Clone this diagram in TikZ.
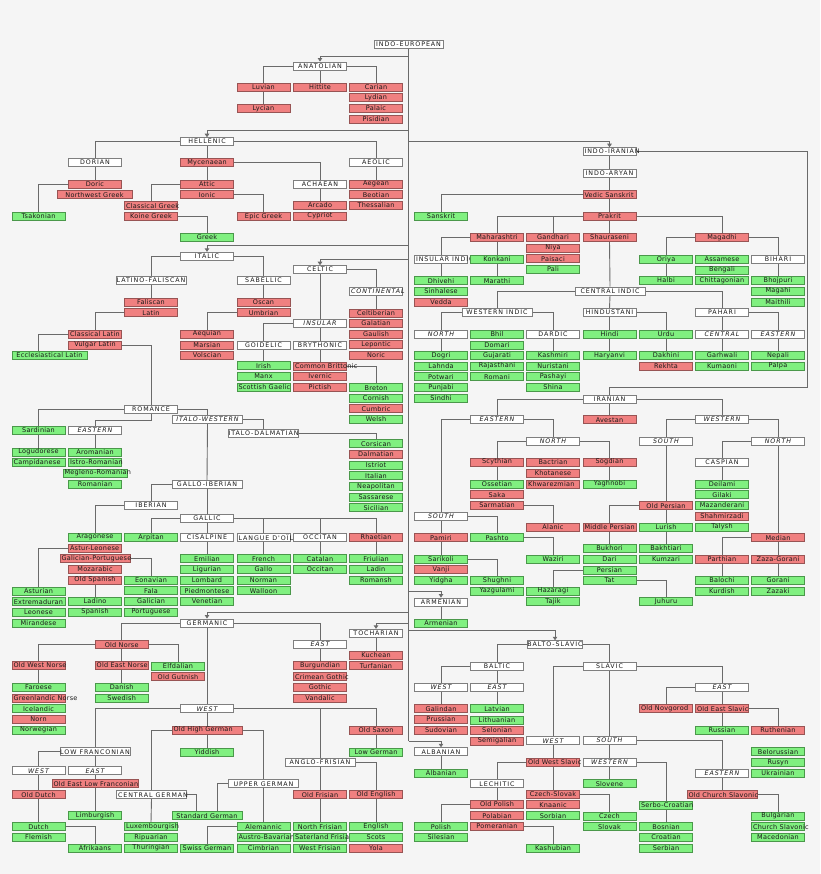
\documentclass[tikz,border=0pt]{standalone}
\usepackage{fontspec}
\setmainfont{DejaVu Sans}
\newfontfamily\boxfont[LetterSpace=4]{DejaVu Sans}
\newfontfamily\hdrfont[LetterSpace=15]{DejaVu Sans}
\usetikzlibrary{arrows.meta,backgrounds}
\definecolor{redf}{HTML}{F08080}
\definecolor{redd}{HTML}{985454}
\definecolor{grnf}{HTML}{80F080}
\definecolor{grnd}{HTML}{4A984A}
\definecolor{hdrd}{HTML}{7F7F7F}
\definecolor{lnc}{HTML}{6A6A6A}
\definecolor{bgc}{HTML}{F5F5F5}
\definecolor{txc}{HTML}{1A1A1A}
\tikzset{
  bx/.style={rectangle, minimum width=53, minimum height=8, inner sep=0pt, line width=0.9pt, text=txc},
  r/.style={bx, fill=redf, draw=redd, font=\boxfont\fontsize{6.5}{7}\selectfont},
  g/.style={bx, fill=grnf, draw=grnd, font=\boxfont\fontsize{6.5}{7}\selectfont},
  h/.style={bx, fill=white, draw=hdrd, font=\hdrfont\fontsize{6.3}{7}\selectfont},
  hi/.style={bx, fill=white, draw=hdrd, font=\hdrfont\itshape\fontsize{6.3}{7}\selectfont},
  wd/.style={minimum width=70},
  ln/.style={draw=lnc, line width=0.9pt},
  arr/.style={ln, -{Triangle[width=4.5pt,length=3.5pt]}}
}
\newcommand\nb[5]{\node[#1] (#2) at (#3,#4) {\makebox[0pt]{#5}};}
\newcommand\ovf[2]{\makebox[0pt][l]{\hspace*{\dimexpr -#1pt/2 + 1.5pt\relax}#2}}
\newcommand\cdown[2]{\draw[ln] (#1.south) -- (#2.north);}
\newcommand\cleft[2]{\draw[ln] (#1.west) -| (#2.north);}
\newcommand\cright[2]{\draw[ln] (#1.east) -| (#2.north);}
\begin{document}
\begin{tikzpicture}[x=1pt,y=-1pt]
\useasboundingbox (0,0) rectangle (820,874);
% ---------- top
\nb{h,minimum width=69}{ie}{408.5}{44.7}{INDO-EUROPEAN}
% Anatolian
\nb{h}{anat}{320}{66}{ANATOLIAN}
\nb{r}{luvian}{263.5}{87.3}{Luvian}
\nb{r}{lycian}{263.5}{108.7}{Lycian}
\nb{r}{hittite}{320}{87.3}{Hittite}
\nb{r}{carian}{376}{87.3}{Carian}
\nb{r}{lydian}{376}{97.8}{Lydian}
\nb{r}{palaic}{376}{108.4}{Palaic}
\nb{r}{pisidian}{376}{119}{Pisidian}
% Hellenic
\nb{h}{hell}{207}{141.7}{HELLENIC}
\nb{h}{dorian}{95}{162.7}{DORIAN}
\nb{r}{myc}{207}{162.7}{Mycenaean}
\nb{h}{aeolic}{376}{162.7}{AEOLIC}
\nb{r}{doric}{95}{184.3}{Doric}
\nb{r,minimum width=75}{nwgreek}{94.5}{194.7}{Northwest Greek}
\nb{r}{attic}{207}{184.3}{Attic}
\nb{r}{ionic}{207}{194.7}{Ionic}
\nb{h}{achaean}{320}{184.3}{ACHAEAN}
\nb{r}{aegean}{376}{184.3}{Aegean}
\nb{r}{beotian}{376}{194.7}{Beotian}
\nb{r}{thessalian}{376}{205.3}{Thessalian}
\nb{r}{classgreek}{151}{205.7}{\ovf{53}{Classical Greek}}
\nb{r}{koine}{151}{216.3}{Koine Greek}
\nb{g}{tsakonian}{38.5}{216.3}{Tsakonian}
\nb{r}{epic}{263.5}{216.3}{Epic Greek}
\nb{r}{arcado}{320}{205.3}{Arcado}
\nb{r}{cypriot}{320}{216}{Cypriot}
\nb{g}{greek}{207}{237.3}{Greek}
% Italic
\nb{h}{italic}{207}{256.3}{ITALIC}
\nb{h,wd}{latfal}{151}{280.7}{LATINO-FALISCAN}
\nb{h}{sabellic}{263.5}{280.7}{SABELLIC}
\nb{r}{faliscan}{151}{302.3}{Faliscan}
\nb{r}{latin}{151}{312.7}{Latin}
\nb{r}{oscan}{263.5}{302.3}{Oscan}
\nb{r}{umbrian}{263.5}{312.7}{Umbrian}
\nb{r}{classlatin}{95}{334}{\ovf{53}{Classical Latin}}
\nb{r}{vulgar}{95}{345}{Vulgar Latin}
\nb{g,minimum width=75}{eccl}{49.5}{355.3}{Ecclesiastical Latin}
\nb{r}{aequian}{207}{334}{Aequian}
\nb{r}{marsian}{207}{345}{Marsian}
\nb{r}{volscian}{207}{355.3}{Volscian}
% Celtic
\nb{h}{celtic}{320}{269.7}{CELTIC}
\nb{hi}{continental}{376}{291.3}{\ovf{53}{CONTINENTAL}}
\nb{r}{celtiberian}{376}{313}{Celtiberian}
\nb{r}{galatian}{376}{323.5}{Galatian}
\nb{r}{gaulish}{376}{334}{Gaulish}
\nb{r}{lepontic}{376}{344.8}{Lepontic}
\nb{r}{noric}{376}{355.5}{Noric}
\nb{hi}{insular}{320}{323.3}{INSULAR}
\nb{h}{goidelic}{263.5}{345}{GOIDELIC}
\nb{h}{brythonic}{320}{345}{BRYTHONIC}
\nb{g}{irish}{263.5}{365.8}{Irish}
\nb{g}{manx}{263.5}{376.3}{Manx}
\nb{g}{scottish}{263.5}{387}{\ovf{53}{Scottish Gaelic}}
\nb{r}{commonbritt}{320}{366}{\ovf{53}{Common Brittonic}}
\nb{r}{ivernic}{320}{376.5}{Ivernic}
\nb{r}{pictish}{320}{387.3}{Pictish}
\nb{g}{breton}{376}{387.7}{Breton}
\nb{g}{cornish}{376}{398.2}{Cornish}
\nb{r}{cumbric}{376}{408.8}{Cumbric}
\nb{g}{welsh}{376}{419.3}{Welsh}
% Romance
\nb{h}{romance}{151}{409}{ROMANCE}
\nb{g}{sardinian}{38.5}{430.3}{Sardinian}
\nb{hi}{easternr}{95}{430.3}{EASTERN}
\nb{hi,wd}{itw}{207.5}{419.7}{ITALO-WESTERN}
\nb{h,wd}{itd}{263.5}{433.3}{ITALO-DALMATIAN}
\nb{g}{logudorese}{38.5}{452}{Logudorese}
\nb{g}{campidanese}{38.5}{462.5}{\ovf{53}{Campidanese}}
\nb{g}{aromanian}{95}{452}{Aromanian}
\nb{g}{istro}{95}{462.5}{\ovf{53}{Istro-Romanian}}
\nb{g,minimum width=64}{megleno}{95}{473}{\ovf{64}{Megleno-Romanian}}
\nb{g}{romanian}{95}{484}{Romanian}
\nb{g}{corsican}{376}{443.7}{Corsican}
\nb{r}{dalmatian}{376}{454.3}{Dalmatian}
\nb{g}{istriot}{376}{465}{Istriot}
\nb{g}{italian}{376}{475.7}{Italian}
\nb{g}{neapolitan}{376}{486.3}{Neapolitan}
\nb{g}{sassarese}{376}{497}{Sassarese}
\nb{g}{sicilian}{376}{507.7}{Sicilian}
\nb{h,wd}{galloib}{207}{484.7}{GALLO-IBERIAN}
\nb{h}{iberian}{151}{505.3}{IBERIAN}
\nb{h}{gallic}{207}{518.3}{GALLIC}
\nb{g}{aragonese}{95}{537.3}{Aragonese}
\nb{g}{arpitan}{151}{537.3}{Arpitan}
\nb{h}{cisalpine}{207}{537.3}{CISALPINE}
\nb{h}{langue}{263.5}{537.3}{\ovf{53}{LANGUE D'OÏL}}
\nb{h}{occitanh}{320}{537.3}{OCCITAN}
\nb{r}{rhaetian}{376}{537.3}{Rhaetian}
\nb{r}{asturleon}{95}{548}{\ovf{53}{Astur-Leonese}}
\nb{r,wd}{galport}{95}{558.7}{\ovf{70}{Galician-Portuguese}}
\nb{r}{mozarabic}{95}{569.5}{Mozarabic}
\nb{r}{oldspanish}{95}{580}{Old Spanish}
\nb{g}{asturian}{38.5}{591}{Asturian}
\nb{g}{extremaduran}{38.5}{601.7}{Extremaduran}
\nb{g}{leonese}{38.5}{612.3}{Leonese}
\nb{g}{mirandese}{38.5}{623}{Mirandese}
\nb{g}{eonavian}{151}{580}{Eonavian}
\nb{g}{fala}{151}{590.7}{Fala}
\nb{g}{galician}{151}{601.3}{Galician}
\nb{g}{portuguese}{151}{612}{Portuguese}
\nb{g}{ladino}{95}{601.3}{Ladino}
\nb{g}{spanish}{95}{612}{Spanish}
\nb{g}{emilian}{207}{558.7}{Emilian}
\nb{g}{ligurian}{207}{569.3}{Ligurian}
\nb{g}{lombard}{207}{580}{Lombard}
\nb{g}{piedmontese}{207}{590.7}{Piedmontese}
\nb{g}{venetian}{207}{601.3}{Venetian}
\nb{g}{french}{263.5}{558.7}{French}
\nb{g}{gallo}{263.5}{569.3}{Gallo}
\nb{g}{norman}{263.5}{580}{Norman}
\nb{g}{walloon}{263.5}{590.7}{Walloon}
\nb{g}{catalan}{320}{558.7}{Catalan}
\nb{g}{occitan}{320}{569.3}{Occitan}
\nb{g}{friulian}{376}{558.7}{Friulian}
\nb{g}{ladin}{376}{569.3}{Ladin}
\nb{g}{romansh}{376}{580}{Romansh}
% Germanic
\nb{h}{germanic}{207}{623}{GERMANIC}
\nb{r}{oldnorse}{121.7}{644.7}{Old Norse}
\nb{hi}{eastg}{320}{644.7}{EAST}
\nb{r}{ownorse}{38.5}{665.3}{\ovf{53}{Old West Norse}}
\nb{r}{oenorse}{121.7}{665.3}{\ovf{53}{Old East Norse}}
\nb{g}{elfdalian}{178}{666.3}{Elfdalian}
\nb{r}{oldgutnish}{178}{676.7}{Old Gutnish}
\nb{g}{faroese}{38.5}{687.3}{Faroese}
\nb{r}{greenlandic}{38.5}{698}{\ovf{53}{Greenlandic Norse}}
\nb{g}{icelandic}{38.5}{708.7}{Icelandic}
\nb{r}{norn}{38.5}{719.5}{Norn}
\nb{g}{norwegian}{38.5}{730}{Norwegian}
\nb{g}{danish}{121.7}{687.3}{Danish}
\nb{g}{swedish}{121.7}{698}{Swedish}
\nb{r}{burgundian}{320}{665.7}{Burgundian}
\nb{r}{crimean}{320}{676.7}{\ovf{53}{Crimean Gothic}}
\nb{r}{gothic}{320}{687.5}{Gothic}
\nb{r}{vandalic}{320}{698}{Vandalic}
\nb{h}{tocharian}{376}{633.3}{TOCHARIAN}
\nb{r}{kuchean}{376}{655}{Kuchean}
\nb{r}{turfanian}{376}{665.7}{Turfanian}
\nb{hi}{westg}{207}{708.7}{WEST}
\nb{r,wd}{ohg}{207}{730}{\ovf{70}{Old High German}}
\nb{g}{yiddish}{207}{752.3}{Yiddish}
\nb{r}{oldsaxon}{376}{730.3}{Old Saxon}
\nb{g}{lowgerman}{376}{752}{Low German}
\nb{h,wd}{lowfr}{95}{751.7}{LOW FRANCONIAN}
\nb{hi}{westlf}{38.5}{770.7}{WEST}
\nb{hi}{eastlf}{95}{770.7}{EAST}
\nb{r,minimum width=86}{oelf}{95}{783.7}{\ovf{86}{Old East Low Franconian}}
\nb{r}{olddutch}{38.5}{794.7}{Old Dutch}
\nb{h,wd}{centralg}{151.5}{794.7}{\ovf{70}{CENTRAL GERMAN}}
\nb{h,wd}{upperg}{263.5}{783.7}{UPPER GERMAN}
\nb{h,wd}{angfris}{320}{762.3}{ANGLO-FRISIAN}
\nb{r}{oldfrisian}{320}{794.7}{Old Frisian}
\nb{r}{oldenglish}{376}{794.3}{Old English}
\nb{g}{limburgish}{95}{815.7}{Limburgish}
\nb{g,wd}{stdgerman}{207}{815.7}{Standard German}
\nb{g}{dutch}{38.5}{826.7}{Dutch}
\nb{g}{flemish}{38.5}{837.3}{Flemish}
\nb{g}{afrikaans}{95}{848}{Afrikaans}
\nb{g}{luxembourgish}{151}{826.7}{\ovf{53}{Luxembourgish}}
\nb{g}{ripuarian}{151}{837.3}{Ripuarian}
\nb{g}{thuringian}{151}{848}{Thuringian}
\nb{g}{swissgerman}{207}{848}{Swiss German}
\nb{g}{alemannic}{263.5}{826.7}{Alemannic}
\nb{g}{austrobav}{263.5}{837.3}{\ovf{53}{Austro-Bavarian}}
\nb{g}{cimbrian}{263.5}{848}{Cimbrian}
\nb{g}{northfrisian}{320}{826.7}{North Frisian}
\nb{g}{saterland}{320}{837.3}{\ovf{53}{Saterland Frisian}}
\nb{g}{westfrisian}{320}{848}{West Frisian}
\nb{g}{english}{376}{826.7}{English}
\nb{g}{scots}{376}{837.3}{Scots}
\nb{r}{yola}{376}{848}{Yola}
% Indo-Iranian
\nb{h}{indoiran}{609.5}{151.7}{\ovf{53}{INDO-IRANIAN}}
\nb{h}{indoaryan}{609.5}{173}{INDO-ARYAN}
\nb{r}{vedic}{609.5}{194.7}{\ovf{53}{Vedic Sanskrit}}
\nb{g}{sanskrit}{441}{216.3}{Sanskrit}
\nb{r}{prakrit}{609.5}{216.3}{Prakrit}
\nb{r}{maharashtri}{497}{237.3}{Maharashtri}
\nb{r}{gandhari}{553}{237.3}{Gandhari}
\nb{r}{shauraseni}{609.5}{237.3}{Shauraseni}
\nb{r}{magadhi}{722}{237.3}{Magadhi}
\nb{r}{niya}{553}{248}{Niya}
\nb{r}{paisaci}{553}{258.7}{Paisaci}
\nb{g}{pali}{553}{269.5}{Pali}
\nb{h}{insindic}{441}{259}{\ovf{53}{INSULAR INDIC}}
\nb{g}{konkani}{497}{259}{Konkani}
\nb{g}{marathi}{497}{280.7}{Marathi}
\nb{g}{oriya}{666}{259.3}{Oriya}
\nb{g}{assamese}{722}{259.3}{Assamese}
\nb{h}{bihari}{778}{259.3}{BIHARI}
\nb{g}{bengali}{722}{270}{Bengali}
\nb{g}{dhivehi}{441}{280.7}{Dhivehi}
\nb{g}{halbi}{666}{280.3}{Halbi}
\nb{g}{chittagonian}{722}{280.3}{Chittagonian}
\nb{g}{bhojpuri}{778}{280.3}{Bhojpuri}
\nb{g}{sinhalese}{441}{291.3}{Sinhalese}
\nb{g}{magahi}{778}{291}{Magahi}
\nb{g}{maithili}{778}{302}{Maithili}
\nb{h,wd}{centralindic}{610}{291}{CENTRAL INDIC}
\nb{r}{vedda}{441}{302.3}{Vedda}
\nb{h,wd}{westindic}{497}{312.7}{WESTERN INDIC}
\nb{h}{hindustani}{609.5}{312.7}{HINDUSTANI}
\nb{h}{pahari}{722}{312.7}{PAHARI}
\nb{hi}{northi}{441}{334}{NORTH}
\nb{g}{bhil}{497}{334}{Bhil}
\nb{h}{dardic}{553}{334}{DARDIC}
\nb{g}{hindi}{609.5}{334}{Hindi}
\nb{g}{urdu}{666}{334}{Urdu}
\nb{hi}{centralp}{722}{334}{CENTRAL}
\nb{hi}{easternp}{778}{334}{EASTERN}
\nb{g}{domari}{497}{345}{Domari}
\nb{g}{dogri}{441}{355.3}{Dogri}
\nb{g}{gujarati}{497}{355.3}{Gujarati}
\nb{g}{kashmiri}{553}{355.3}{Kashmiri}
\nb{g}{haryanvi}{609.5}{355.3}{Haryanvi}
\nb{g}{dakhini}{666}{355.3}{Dakhini}
\nb{g}{garhwali}{722}{355.3}{Garhwali}
\nb{g}{nepali}{778}{355.3}{Nepali}
\nb{g}{lahnda}{441}{366}{Lahnda}
\nb{g}{rajasthani}{497}{366}{Rajasthani}
\nb{g}{nuristani}{553}{366}{Nuristani}
\nb{r}{rekhta}{666}{366}{Rekhta}
\nb{g}{kumaoni}{722}{366}{Kumaoni}
\nb{g}{palpa}{778}{366}{Palpa}
\nb{g}{potwari}{441}{376.7}{Potwari}
\nb{g}{romani}{497}{376.7}{Romani}
\nb{g}{pashayi}{553}{376.7}{Pashayi}
\nb{g}{punjabi}{441}{387.5}{Punjabi}
\nb{g}{shina}{553}{387.5}{Shina}
\nb{g}{sindhi}{441}{398.2}{Sindhi}
% Iranian
\nb{h}{iranian}{609.5}{399}{IRANIAN}
\nb{r}{avestan}{609.5}{419.7}{Avestan}
\nb{hi}{easternir}{497}{419.7}{EASTERN}
\nb{hi}{westernir}{722}{419.7}{WESTERN}
\nb{hi}{northie}{553}{441}{NORTH}
\nb{hi}{southiw}{666}{441}{SOUTH}
\nb{hi}{northiw}{778}{441}{NORTH}
\nb{r}{scythian}{497}{462}{Scythian}
\nb{r}{bactrian}{553}{462}{Bactrian}
\nb{r}{sogdian}{609.5}{462}{Sogdian}
\nb{h}{caspian}{722}{462}{CASPIAN}
\nb{r}{khotanese}{553}{473}{Khotanese}
\nb{g}{ossetian}{497}{484}{Ossetian}
\nb{r}{khwarezmian}{553}{484}{\ovf{53}{Khwarezmian}}
\nb{g}{yaghnobi}{609.5}{484}{Yaghnobi}
\nb{g}{deilami}{722}{484}{Deilami}
\nb{r}{saka}{497}{494.7}{Saka}
\nb{g}{gilaki}{722}{494.7}{Gilaki}
\nb{r}{sarmatian}{497}{505.3}{Sarmatian}
\nb{r}{oldpersian}{666}{505.7}{Old Persian}
\nb{g}{mazanderani}{722}{505.3}{Mazanderani}
\nb{hi}{southie}{441}{516.3}{SOUTH}
\nb{r}{shahmirzadi}{722}{516}{Shahmirzadi}
\nb{r}{alanic}{553}{527}{Alanic}
\nb{r}{middlepersian}{609.5}{527}{\ovf{53}{Middle Persian}}
\nb{g}{lurish}{666}{527}{Lurish}
\nb{g}{talysh}{722}{527}{Talysh}
\nb{r}{pamiri}{441}{537.7}{Pamiri}
\nb{g}{pashto}{497}{537.7}{Pashto}
\nb{r}{median}{778}{537.7}{Median}
\nb{g}{bukhori}{609.5}{548}{Bukhori}
\nb{g}{bakhtiari}{666}{548}{Bakhtiari}
\nb{g}{sarikoli}{441}{559}{Sarikoli}
\nb{g}{waziri}{553}{559}{Waziri}
\nb{g}{dari}{609.5}{559}{Dari}
\nb{g}{kumzari}{666}{559}{Kumzari}
\nb{r}{parthian}{722}{559}{Parthian}
\nb{r}{zazagorani}{778}{559}{Zaza-Gorani}
\nb{r}{vanji}{441}{569.7}{Vanji}
\nb{g}{persian}{609.5}{570}{Persian}
\nb{g}{yidgha}{441}{580.3}{Yidgha}
\nb{g}{shughni}{497}{580.3}{Shughni}
\nb{g}{tat}{609.5}{580.3}{Tat}
\nb{g}{balochi}{722}{580.3}{Balochi}
\nb{g}{gorani}{778}{580.3}{Gorani}
\nb{g}{yazgulami}{497}{591}{Yazgulami}
\nb{g}{hazaragi}{553}{591}{Hazaragi}
\nb{g}{kurdish}{722}{591}{Kurdish}
\nb{g}{zazaki}{778}{591}{Zazaki}
\nb{g}{tajik}{553}{601.7}{Tajik}
\nb{g}{juhuru}{666}{601.7}{Juhuru}
\nb{h}{armenianh}{441}{602}{ARMENIAN}
\nb{g}{armenian}{441}{623}{Armenian}
% Balto-Slavic, Albanian
\nb{h,minimum width=55}{baltoslavic}{555}{644.7}{BALTO-SLAVIC}
\nb{h}{baltic}{497}{666.3}{BALTIC}
\nb{h}{slavic}{609.5}{666.3}{SLAVIC}
\nb{hi}{westb}{441}{687.3}{WEST}
\nb{hi}{eastb}{497}{687.3}{EAST}
\nb{hi}{easts}{722}{687.3}{EAST}
\nb{r}{galindan}{441}{708.7}{Galindan}
\nb{g}{latvian}{497}{708.7}{Latvian}
\nb{r}{oldnovgorod}{666}{708.7}{\ovf{53}{Old Novgorod}}
\nb{r}{oldeastslavic}{722}{708.7}{\ovf{53}{Old East Slavic}}
\nb{r}{prussian}{441}{719.3}{Prussian}
\nb{g}{lithuanian}{497}{720}{Lithuanian}
\nb{r}{sudovian}{441}{730}{Sudovian}
\nb{r}{selonian}{497}{730.3}{Selonian}
\nb{g}{russian}{722}{730}{Russian}
\nb{r}{ruthenian}{778}{730}{Ruthenian}
\nb{r}{semigalian}{497}{741}{Semigalian}
\nb{hi}{wests}{553}{740.7}{WEST}
\nb{hi}{souths}{609.5}{740.3}{SOUTH}
\nb{h}{albanianh}{441}{751.7}{ALBANIAN}
\nb{g}{belorussian}{778}{751.7}{Belorussian}
\nb{r}{oldwestslavic}{553}{762.5}{\ovf{53}{Old West Slavic}}
\nb{hi}{westerns}{609.5}{762}{WESTERN}
\nb{g}{rusyn}{778}{762.3}{Rusyn}
\nb{g}{albanian}{441}{773.3}{Albanian}
\nb{hi}{easterns}{722}{773}{EASTERN}
\nb{g}{ukrainian}{778}{773}{Ukrainian}
\nb{h}{lechitic}{497}{783.7}{LECHITIC}
\nb{g}{slovene}{609.5}{783.7}{Slovene}
\nb{r}{czechslovak}{553}{794.3}{Czech-Slovak}
\nb{r,wd}{ocs}{722}{794.7}{\ovf{70}{Old Church Slavonic}}
\nb{r}{oldpolish}{497}{804.3}{Old Polish}
\nb{r}{knaanic}{553}{804.7}{Knaanic}
\nb{g}{serbocroatian}{666}{805.3}{\ovf{53}{Serbo-Croatian}}
\nb{r}{polabian}{497}{815.7}{Polabian}
\nb{g}{sorbian}{553}{815.7}{Sorbian}
\nb{g}{czech}{609.5}{816}{Czech}
\nb{g}{bulgarian}{778}{816}{Bulgarian}
\nb{g}{polish}{441}{826.7}{Polish}
\nb{r}{pomeranian}{497}{826.3}{Pomeranian}
\nb{g}{slovak}{609.5}{826.7}{Slovak}
\nb{g}{bosnian}{666}{826.7}{Bosnian}
\nb{g}{churchslavonic}{778}{826.7}{\ovf{53}{Church Slavonic}}
\nb{g}{silesian}{441}{837.3}{Silesian}
\nb{g}{croatian}{666}{837.3}{Croatian}
\nb{g}{macedonian}{778}{837.3}{Macedonian}
\nb{g}{kashubian}{553}{848.3}{Kashubian}
\nb{g}{serbian}{666}{848}{Serbian}
% trunk coordinates
\coordinate (tr1) at (408.5,56);
\coordinate (tr2) at (408.5,130.3);
\coordinate (tr3) at (408.5,141);
\coordinate (tr4) at (408.5,245.7);
\coordinate (tr5) at (408.5,259);
\coordinate (tr6) at (408.5,591.7);
\coordinate (tr7) at (408.5,612.3);
\coordinate (tr8) at (408.5,623);
\coordinate (tr9) at (408.5,630.7);
\coordinate (tr10) at (408.5,741);
\coordinate (ircorner) at (807.7,387.3);
\begin{pgfonlayer}{background}
\fill[bgc] (0,0) rectangle (820,874);
\draw[ln] (ie.south) -- (tr10);
\draw[arr] (tr1) -| (anat.north);
\draw[arr] (tr2) -| (hell.north);
\draw[arr] (tr3) -| (indoiran.north);
\draw[arr] (tr4) -| (italic.north);
\draw[arr] (tr5) -| (celtic.north);
\draw[arr] (tr6) -| (armenianh.north);
\draw[arr] (tr7) -| (germanic.north);
\draw[arr] (tr8) -| (tocharian.north);
\draw[arr] (tr9) -| (baltoslavic.north);
\draw[arr] (tr10) -| (albanianh.north);
% Anatolian
\cleft{anat}{luvian} \cdown{luvian}{lycian} \cdown{anat}{hittite} \cright{anat}{carian}
% Hellenic
\cleft{hell}{dorian} \cright{hell}{aeolic} \cdown{hell}{myc} \cright{myc}{achaean}
\cdown{myc}{attic} \cdown{dorian}{doric} \cleft{doric}{tsakonian} \cleft{attic}{classgreek}
\cright{ionic}{epic} \cright{koine}{greek} \cdown{aeolic}{aegean} \cdown{achaean}{arcado}
% Italic
\cleft{italic}{latfal} \cright{italic}{sabellic} \cdown{latfal}{faliscan} \cdown{sabellic}{oscan}
\cleft{latin}{classlatin} \draw[ln] (classlatin.west) -| ([xshift=-11pt]eccl.north);
\cright{vulgar}{romance} \cleft{umbrian}{aequian}
% Celtic
\cright{celtic}{continental} \cdown{continental}{celtiberian} \cdown{celtic}{insular}
\cdown{insular}{brythonic} \cdown{brythonic}{commonbritt} \cleft{insular}{goidelic}
\cdown{goidelic}{irish} \cright{commonbritt}{breton}
% Romance
\cleft{romance}{sardinian} \cright{romance}{itw}
\draw[ln] (romance.south) -- ++(0,6.7) -| (easternr.north);
\cright{itw}{itd} \cright{itd}{corsican} \cdown{sardinian}{logudorese} \cdown{easternr}{aromanian}
\cdown{itw}{galloib} \cleft{galloib}{iberian} \cdown{galloib}{gallic}
\cleft{gallic}{arpitan} \cright{gallic}{langue} \cright{gallic}{occitanh} \cright{gallic}{rhaetian}
\cdown{gallic}{cisalpine} \cdown{cisalpine}{emilian} \cdown{langue}{french}
\cdown{occitanh}{catalan} \cdown{rhaetian}{friulian} \cleft{iberian}{aragonese}
\cleft{asturleon}{asturian} \cright{galport}{eonavian} \cdown{oldspanish}{ladino}
% Germanic
\cleft{germanic}{oldnorse} \cright{germanic}{eastg} \cdown{germanic}{westg}
\cleft{oldnorse}{ownorse} \cright{oldnorse}{elfdalian} \cdown{oldnorse}{oenorse}
\cdown{ownorse}{faroese} \cdown{oenorse}{danish} \cdown{eastg}{burgundian} \cdown{tocharian}{kuchean}
\cleft{westg}{lowfr} \cright{westg}{oldsaxon} \cright{westg}{angfris} \cdown{westg}{ohg}
\cdown{ohg}{yiddish} \cdown{oldsaxon}{lowgerman} \cleft{ohg}{centralg} \cdown{centralg}{luxembourgish}
\cright{ohg}{upperg} \cdown{upperg}{alemannic} \cleft{lowfr}{westlf} \cdown{westlf}{olddutch}
\cdown{olddutch}{dutch} \cdown{lowfr}{eastlf} \cdown{eastlf}{oelf} \cdown{oelf}{limburgish}
\cright{dutch}{afrikaans}
\draw[ln] (centralg.east) -| ([xshift=-10.3pt]stdgerman.north);
\draw[ln] (upperg.west) -| ([xshift=10.7pt]stdgerman.north);
\cleft{alemannic}{swissgerman} \cdown{angfris}{oldfrisian} \cdown{oldfrisian}{northfrisian}
\cright{angfris}{oldenglish} \cdown{oldenglish}{english}
% Indo-Aryan
\cdown{indoiran}{indoaryan} \cdown{indoaryan}{vedic} \cdown{vedic}{prakrit} \cleft{vedic}{sanskrit}
\cleft{prakrit}{maharashtri} \cleft{prakrit}{gandhari} \cright{prakrit}{magadhi} \cdown{prakrit}{shauraseni}
\cdown{maharashtri}{konkani} \cdown{konkani}{marathi} \cleft{maharashtri}{insindic} \cdown{insindic}{dhivehi}
\cleft{magadhi}{oriya} \cdown{oriya}{halbi} \cright{magadhi}{bihari} \cdown{bihari}{bhojpuri}
\cdown{shauraseni}{centralindic} \cleft{centralindic}{westindic} \cright{centralindic}{pahari}
\cdown{centralindic}{hindustani} \cdown{hindustani}{hindi} \cdown{hindi}{haryanvi}
\cright{hindustani}{urdu} \cdown{urdu}{dakhini} \cdown{pahari}{centralp} \cdown{centralp}{garhwali}
\cright{pahari}{easternp} \cdown{easternp}{nepali}
\cleft{westindic}{northi} \cdown{northi}{dogri} \cright{westindic}{dardic} \cdown{dardic}{kashmiri}
% Iranian
\draw[ln] (indoiran.east) -| (ircorner) -| (iranian.north);
\cdown{iranian}{avestan} \cleft{iranian}{easternir} \cright{iranian}{westernir}
\cleft{easternir}{southie} \cright{easternir}{northie} \cleft{northie}{scythian} \cdown{scythian}{ossetian}
\cright{northie}{sogdian} \cdown{sogdian}{yaghnobi} \cright{sarmatian}{alanic}
\cright{southie}{pashto} \cdown{southie}{pamiri} \cdown{pamiri}{sarikoli} \cright{pashto}{waziri}
\cright{sarikoli}{shughni}
\cleft{westernir}{southiw} \cright{westernir}{northiw} \cleft{northiw}{caspian} \cdown{caspian}{deilami}
\cdown{southiw}{oldpersian} \cleft{oldpersian}{middlepersian} \cdown{middlepersian}{bukhori}
\cdown{oldpersian}{lurish} \cdown{lurish}{bakhtiari} \cleft{persian}{hazaragi} \cright{tat}{juhuru}
\cdown{northiw}{median} \cleft{median}{parthian} \cdown{parthian}{balochi}
\cdown{median}{zazagorani} \cdown{zazagorani}{gorani}
\cdown{armenianh}{armenian}
% Balto-Slavic
\cleft{baltoslavic}{baltic} \cright{baltoslavic}{slavic} \cleft{baltic}{westb} \cdown{westb}{galindan}
\cdown{baltic}{eastb} \cdown{eastb}{latvian} \cdown{albanianh}{albanian}
\cleft{slavic}{wests} \cdown{wests}{oldwestslavic} \cdown{oldwestslavic}{czechslovak}
\cleft{oldwestslavic}{lechitic} \cdown{lechitic}{oldpolish} \cleft{oldpolish}{polish}
\cright{pomeranian}{kashubian} \cright{czechslovak}{czech}
\cdown{slavic}{souths} \cright{slavic}{easts} \cleft{easts}{oldnovgorod} \cdown{easts}{oldeastslavic}
\cdown{oldeastslavic}{russian} \cright{oldeastslavic}{ruthenian}
\cright{souths}{easterns} \cdown{easterns}{ocs} \cright{ocs}{bulgarian}
\cdown{souths}{westerns} \cdown{westerns}{slovene} \cright{westerns}{serbocroatian}
\cdown{serbocroatian}{bosnian}
\end{pgfonlayer}
\end{tikzpicture}
\end{document}
